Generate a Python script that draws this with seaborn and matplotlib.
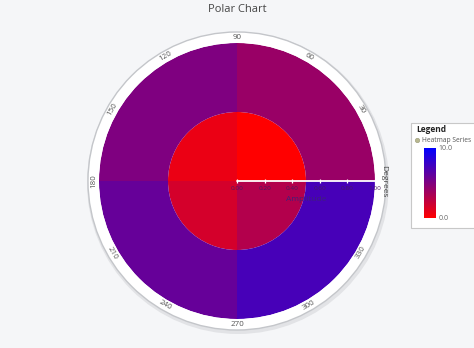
import numpy as np
import matplotlib
matplotlib.use("Agg")
import matplotlib.pyplot as plt
from matplotlib.patches import Circle, Rectangle
from matplotlib.colors import Normalize
from matplotlib.cm import ScalarMappable
import seaborn as sns

# ---- data ----
sector_start_deg = [0, 90, 180, 270]
sector_width_deg = 90
ring_edges = [0.0, 0.5, 1.0]
inner_values = [0.0, 0.8, 1.7, 3.0]   # sectors 0-90, 90-180, 180-270, 270-360
outer_values = [4.0, 5.0, 6.0, 7.2]
value_min, value_max = 0.0, 10.0
angle_ticks = [30, 60, 90, 120, 150, 180, 210, 240, 270, 300, 330]
radial_ticks = [0.0, 0.2, 0.4, 0.6, 0.8, 1.0]
radial_tick_labels = ["0.00", "0.20", "0.40", "0.60", "0.80", "1.00"]

sns.set_theme(style="white")
plt.rcParams['font.family'] = ['Open Sans', 'DejaVu Sans']

BG = '#f5f6f8'
W, H, DPI = 474, 348, 100
fig = plt.figure(figsize=(W / DPI, H / DPI), dpi=DPI, facecolor=BG)

cx, cy, R = 237, 181, 138
ring_r = 149

bg = fig.add_axes([0, 0, 1, 1], zorder=-1)
bg.set_xlim(0, W)
bg.set_ylim(H, 0)
bg.axis('off')
bg.add_patch(Circle((cx + 1, cy + 2), ring_r + 2, facecolor='#e2e3e6', edgecolor='none'))
bg.add_patch(Circle((cx, cy), ring_r, facecolor='white', edgecolor='#c4c6ca', lw=1.0))

cmap = sns.blend_palette(['#ff0000', '#0000ff'], as_cmap=True)
norm = Normalize(vmin=value_min, vmax=value_max)

ax = fig.add_axes([(cx - R) / W, (H - cy - R) / H, 2 * R / W, 2 * R / H],
                  projection='polar', zorder=1)
ax.patch.set_alpha(0)
theta_centers = np.deg2rad(np.array(sector_start_deg) + sector_width_deg / 2)
width = np.deg2rad(sector_width_deg)
for i, vals in enumerate([inner_values, outer_values]):
    bottom = ring_edges[i]
    height = ring_edges[i + 1] - ring_edges[i]
    ax.bar(theta_centers, height, width=width, bottom=bottom,
           color=[cmap(norm(v)) for v in vals], edgecolor='none',
           linewidth=0, align='center')
ax.set_ylim(0, 1)
ax.grid(False)
ax.set_xticks([])
ax.set_yticks([])
ax.spines['polar'].set_visible(False)

r_lab = (ring_r - 5.5) / R
for a in angle_ticks:
    rot = a - 90 if a <= 180 else a + 90
    ax.text(np.deg2rad(a), r_lab, str(a), rotation=rot, rotation_mode='anchor',
            ha='center', va='center', fontsize=5.8, color='#555555', clip_on=False)
ax.text(0, (ring_r - 2.5) / R, 'Degrees', rotation=-90, rotation_mode='anchor',
        ha='center', va='center', fontsize=6, color='#444444', clip_on=False)

ax.plot([0, 0], [0, 1], color='white', lw=1.3, clip_on=False, zorder=3)
ax.plot(np.zeros(len(radial_ticks)), radial_ticks, ls='none', marker='|',
        markersize=3.5, color='white', mew=0.9, clip_on=False, zorder=3)
for r, lab in zip(radial_ticks, radial_tick_labels):
    ax.annotate(lab, (0, r), xytext=(0, -5.5), textcoords='offset points',
                ha='center', va='center', fontsize=4.6, color='#4a1a60',
                annotation_clip=False)
ax.annotate('Amplitude', (0, 0.5), xytext=(0, -13), textcoords='offset points',
            ha='center', va='center', fontsize=6, color='#40207a',
            annotation_clip=False)

fig.text(0.5, 1 - 10 / H, 'Polar Chart', ha='center', va='center',
         fontsize=8, color='#444444')

fig.patches.append(Rectangle((411 / W, (H - 228) / H), 70 / W, 105 / H,
                             transform=fig.transFigure, facecolor='white',
                             edgecolor='#c8c8c8', lw=0.8, zorder=2))
fig.text(416 / W, 1 - 129 / H, 'Legend', ha='left', va='center',
         fontsize=6, fontweight='bold', color='#222222', zorder=3)
fig.text(422 / W, 1 - 140 / H, 'Heatmap Series', ha='left', va='center',
         fontsize=4.8, color='#555555', zorder=3)
mk = fig.add_axes([413 / W, 1 - 144 / H, 8 / W, 8 / H], zorder=3)
mk.set_xlim(-1, 1); mk.set_ylim(-1, 1); mk.axis('off')
mk.plot([0], [0], 'o', color='#b8b890', markersize=3.2, mec='#999977', mew=0.4)

cax = fig.add_axes([424 / W, (H - 218) / H, 12 / W, 70 / H], zorder=3)
cb = fig.colorbar(ScalarMappable(norm=norm, cmap=cmap), cax=cax)
cb.outline.set_visible(False)
cb.set_ticks([value_min, value_max])
cb.set_ticklabels([f"{value_min:.1f}", f"{value_max:.1f}"])
cax.tick_params(length=0, labelsize=5, colors='#666666', pad=2)

fig.savefig('out.png', dpi=DPI, facecolor=BG)
